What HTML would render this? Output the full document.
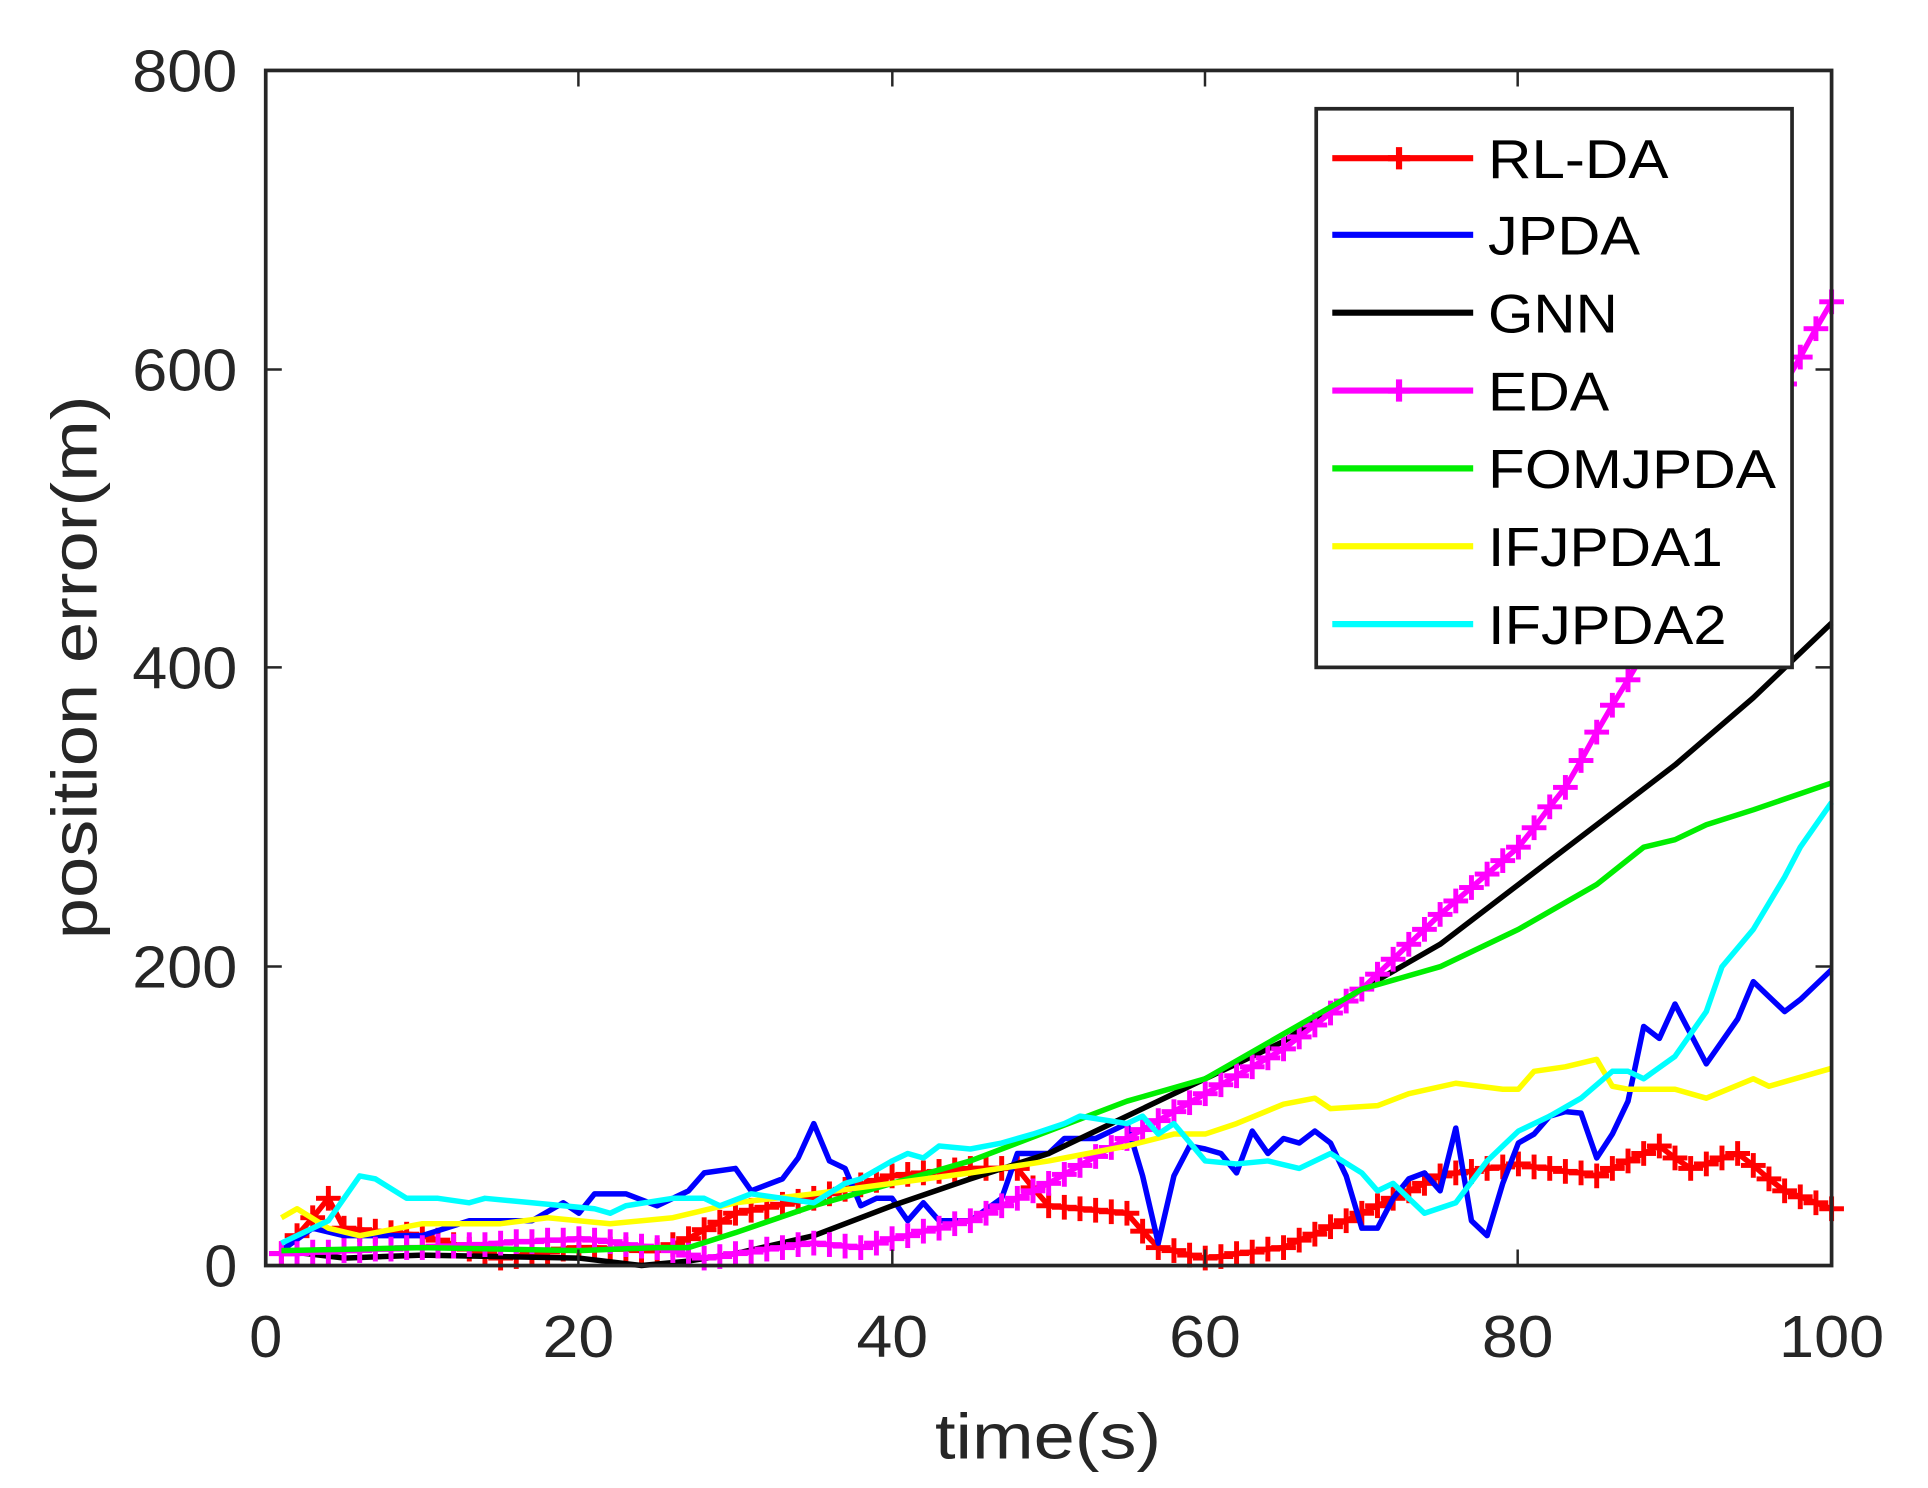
<!DOCTYPE html>
<html><head><meta charset="utf-8"><style>html,body{margin:0;padding:0;background:#fff}svg{display:block}</style></head>
<body>
<svg width="1928" height="1488" viewBox="0 0 1560 1204" xmlns="http://www.w3.org/2000/svg" font-family="Liberation Sans, Arial, sans-serif">
<defs>
<marker id="mr" viewBox="0 0 20 20" markerUnits="userSpaceOnUse" markerWidth="1.5785" markerHeight="16.54" refX="10" refY="10" preserveAspectRatio="none" overflow="visible">
<rect x="0" y="8" width="20" height="4" fill="#f00"/><rect x="8" y="0" width="4" height="20" fill="#f00"/></marker>
<marker id="mm" viewBox="0 0 20 20" markerUnits="userSpaceOnUse" markerWidth="1.5785" markerHeight="16.54" refX="10" refY="10" preserveAspectRatio="none" overflow="visible">
<rect x="0" y="8" width="20" height="4" fill="#f0f"/><rect x="8" y="0" width="4" height="20" fill="#f0f"/></marker>
</defs>
<rect width="1560" height="1204" fill="#fff"/>
<g transform="translate(215,1024) scale(12.67,-1.209)" fill="none" stroke-width="5.5" stroke-linejoin="round">
<polyline vector-effect="non-scaling-stroke" stroke="#f00" marker-start="url(#mr)" marker-mid="url(#mr)" marker-end="url(#mr)" points="1,8 2,20 3,32 4,45 5,25 6,24 7,23 8,22 9,21 10,20 11,17 12,14 13,11 14,8 15,5 16,6 17,8 18,9 19,11 20,12 21,12 22,11 23,11 24,10 25,10 26,14 27,18 28,24 29,29 30,35 31,37 32,39 33,41 34,43 35,45 36,48 37,51 38,54 39,57 40,60 41,61 42,62 43,63 44,64 45,65 46,65 47,65 48,65 49,52 50,40 51,39 52,38 53,37 54,36 55,35 56,23 57,12 58,10 59,7 60,5 61,6 62,8 63,9 64,11 65,12 66,17 67,21 68,26 69,30 70,35 71,40 72,45 73,50 74,55 75,60 76,62 77,63 78,65 79,66 80,68 81,66 82,65 83,63 84,62 85,60 86,65 87,70 88,75 89,80 90,72 91,65 92,68 93,72 94,75 95,67 96,58 97,50 98,46 99,42 100,38"/>
<polyline vector-effect="non-scaling-stroke" stroke="#00f" points="1,10 3,25 5,20 10,20 13,30 17,30 19,42 20,35 21,48 23,48 25,40 27,50 28,62 30,65 31,50 33,58 34,72 35,95 36,70 37,65 38,40 39,45 40,45 41,30 42,42 43,30 45,30 47,45 48,75 50,75 51,85 53,85 55,95 56,60 57,15 58,60 59,80 60,78 61,75 62,62 63,90 64,75 65,85 66,82 67,90 68,82 69,60 70,25 71,25 72,45 73,58 74,62 75,50 76,92 77,30 78,20 79,55 80,82 81,88 82,100 83,103 84,102 85,72 86,88 87,110 88,160 89,152 90,175 91,155 92,135 94,165 95,190 96,180 97,170 98,178 100,198"/>
<polyline vector-effect="non-scaling-stroke" stroke="#000" points="1,10 5,5 10,7 20,5 24,0 27,3 30,8 35,20 40,40 45,58 50,75 55,100 60,125 65,150 70,185 75,215 80,255 85,295 90,335 95,380 100,430"/>
<polyline vector-effect="non-scaling-stroke" stroke="#f0f" marker-start="url(#mm)" marker-mid="url(#mm)" marker-end="url(#mm)" points="1,8 2,8 3,9 4,9 5,10 6,10 7,11 8,11 9,12 10,12 11,13 12,13 13,14 14,14 15,15 16,16 17,16 18,17 19,17 20,18 21,17 22,16 23,14 24,13 25,12 26,10 27,7 28,5 29,6 30,8 31,9 32,11 33,12 34,14 35,15 36,14 37,13 38,12 39,15 40,18 41,20 42,23 43,25 44,28 45,30 46,35 47,40 48,45 49,50 50,55 51,61 52,67 53,73 54,79 55,85 56,91 57,97 58,103 59,109 60,115 61,121 62,127 63,133 64,139 65,145 66,153 67,161 68,169 69,177 70,185 71,195 72,205 73,215 74,225 75,235 76,244 77,253 78,262 79,271 80,280 81,293 82,307 83,320 84,338 85,357 86,375 87,392 88,410 89,432 90,455 91,476 92,497 93,518 94,539 95,560 96,575 97,590 98,608 99,627 100,645"/>
<polyline vector-effect="non-scaling-stroke" stroke="#0e0" points="1,10 10,12 20,10 25,12 27,12 30,22 35,40 40,55 45,70 50,90 55,110 60,125 65,155 70,185 75,200 80,225 85,255 88,280 90,285 92,295 95,305 100,323"/>
<polyline vector-effect="non-scaling-stroke" stroke="#ff0" points="1,32 2,38 4,25 6,20 10,28 15,28 18,32 22,28 26,32 30,42 35,48 40,55 45,62 50,70 55,80 58,88 60,88 62,95 65,108 67,112 68,105 71,107 73,115 76,122 79,118 80,118 81,130 83,133 85,138 86,120 87,118 90,118 92,112 95,125 96,120 100,132"/>
<polyline vector-effect="non-scaling-stroke" stroke="#0ff" points="1,15 2,20 4,30 6,60 7,58 9,45 11,45 13,42 14,45 17,42 19,40 21,38 22,35 23,40 26,45 28,45 29,40 31,48 33,45 35,42 37,55 38,58 40,70 41,75 42,72 43,80 45,78 47,82 49,88 51,95 52,100 55,95 56,100 57,88 58,95 60,70 62,68 64,70 66,65 68,75 70,62 71,50 72,55 74,35 76,42 78,70 80,90 82,100 84,112 86,130 87,130 88,125 90,140 92,170 93,200 95,225 97,260 98,280 100,310"/>
</g>
<rect x="215" y="57" width="1267" height="967" fill="none" stroke="#262626" stroke-width="3"/>
<g stroke="#262626" stroke-width="2">
<path d="M468 1024v-13M722 1024v-13M975 1024v-13M1228 1024v-13M468 57v13M722 57v13M975 57v13M1228 57v13M215 782h13M215 540h13M215 299h13M1482 782h-13M1482 540h-13M1482 299h-13"/>
</g>
<g font-size="48" fill="#262626">
<text x="215" y="1098" text-anchor="middle">0</text>
<text x="468" y="1098" text-anchor="middle" textLength="58" lengthAdjust="spacingAndGlyphs">20</text>
<text x="722" y="1098" text-anchor="middle" textLength="58" lengthAdjust="spacingAndGlyphs">40</text>
<text x="975" y="1098" text-anchor="middle" textLength="58" lengthAdjust="spacingAndGlyphs">60</text>
<text x="1228" y="1098" text-anchor="middle" textLength="58" lengthAdjust="spacingAndGlyphs">80</text>
<text x="1482" y="1098" text-anchor="middle" textLength="85" lengthAdjust="spacingAndGlyphs">100</text>
<text x="192" y="1041" text-anchor="end">0</text>
<text x="192" y="799" text-anchor="end" textLength="85" lengthAdjust="spacingAndGlyphs">200</text>
<text x="192" y="557" text-anchor="end" textLength="85" lengthAdjust="spacingAndGlyphs">400</text>
<text x="192" y="316" text-anchor="end" textLength="85" lengthAdjust="spacingAndGlyphs">600</text>
<text x="192" y="74" text-anchor="end" textLength="85" lengthAdjust="spacingAndGlyphs">800</text>
<text x="848" y="1180" text-anchor="middle" font-size="52" textLength="183" lengthAdjust="spacingAndGlyphs">time(s)</text>
<text transform="translate(78,540) rotate(-90)" text-anchor="middle" font-size="52" textLength="440" lengthAdjust="spacingAndGlyphs">position error(m)</text>
</g>
<rect x="1065" y="88" width="385" height="452" fill="#fff" stroke="#262626" stroke-width="3"/>
<g stroke-width="5" fill="none">
<line x1="1078" y1="128" x2="1192" y2="128" stroke="#f00"/><path d="M1123 128h18M1132 119v18" stroke="#f00"/>
<line x1="1078" y1="190" x2="1192" y2="190" stroke="#00f"/>
<line x1="1078" y1="253" x2="1192" y2="253" stroke="#000"/>
<line x1="1078" y1="316" x2="1192" y2="316" stroke="#f0f"/><path d="M1123 316h18M1132 307v18" stroke="#f0f"/>
<line x1="1078" y1="379" x2="1192" y2="379" stroke="#0e0"/>
<line x1="1078" y1="442" x2="1192" y2="442" stroke="#ff0"/>
<line x1="1078" y1="505" x2="1192" y2="505" stroke="#0ff"/>
</g>
<g font-size="44" fill="#000">
<text x="1204" y="144" textLength="146" lengthAdjust="spacingAndGlyphs">RL-DA</text>
<text x="1204" y="206" textLength="123" lengthAdjust="spacingAndGlyphs">JPDA</text>
<text x="1204" y="269" textLength="105" lengthAdjust="spacingAndGlyphs">GNN</text>
<text x="1204" y="332" textLength="98" lengthAdjust="spacingAndGlyphs">EDA</text>
<text x="1204" y="395" textLength="233" lengthAdjust="spacingAndGlyphs">FOMJPDA</text>
<text x="1204" y="458" textLength="190" lengthAdjust="spacingAndGlyphs">IFJPDA1</text>
<text x="1204" y="521" textLength="193" lengthAdjust="spacingAndGlyphs">IFJPDA2</text>
</g>
</svg>
</body></html>
